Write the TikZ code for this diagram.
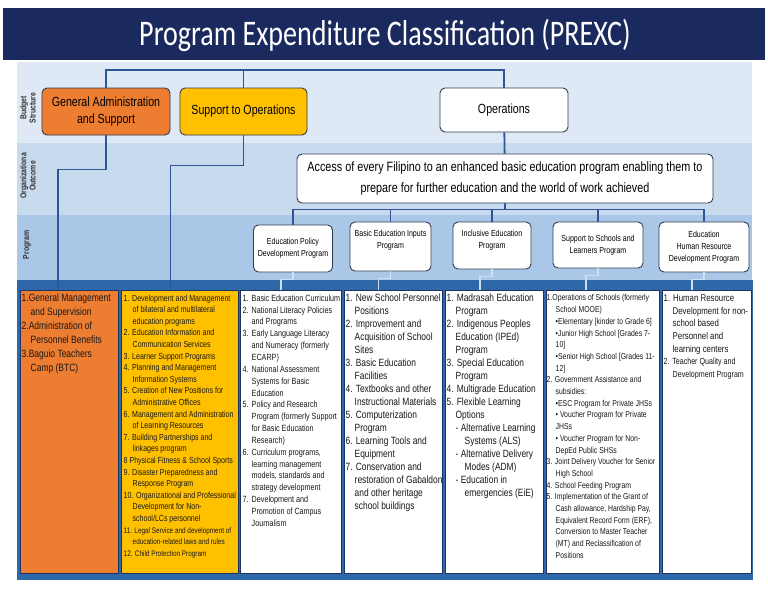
\documentclass[tikz,border=0pt]{standalone}
\usepackage{fontspec}
\setmainfont{Liberation Sans}[FakeStretch=0.8]
\newfontfamily\titlefont{Carlito}[FakeStretch=0.78]
\usetikzlibrary{calc}

\definecolor{titlenavy}{RGB}{27,42,94}
\definecolor{bandone}{RGB}{222,233,245}
\definecolor{bandtwo}{RGB}{200,218,238}
\definecolor{bandthree}{RGB}{170,199,231}
\definecolor{frameblue}{RGB}{46,103,170}
\definecolor{linkblue}{RGB}{47,85,151}
\definecolor{paleblue}{RGB}{205,224,243}
\definecolor{coledge}{RGB}{30,52,96}
\definecolor{boxedge}{RGB}{50,60,80}
\definecolor{gaorange}{RGB}{237,125,49}
\definecolor{supgold}{RGB}{255,192,0}

\newcommand\fs[2]{\fontsize{#1}{#2}\selectfont}
\newcommand\indnt{\hspace*{9pt}}

\begin{document}
\begin{tikzpicture}[x=1pt, y=-1pt,
    box/.style={rectangle, rounded corners=5pt, draw=boxedge, line width=0.9pt, align=center, inner sep=1pt},
    column/.style={rectangle, draw=coledge, line width=1pt, fill=white, minimum height=283, inner sep=0pt},
    list/.style={anchor=north west, align=left, inner sep=0pt, text=black!90},
    link/.style={draw=linkblue, line width=1.8pt},
    sublink/.style={draw=paleblue, line width=1.5pt},
    bandlabel/.style={font=\bfseries\fs{8.6}{9.2}, rotate=90, align=center, text=black!80}
]
    \useasboundingbox[fill=white] (0,0) rectangle (768,594);

    % Title
    \fill[titlenavy] (3,8) rectangle (765,60);
    \node[font=\titlefont\fs{36}{40}, text=white] (title) at (385,35) {Program Expenditure Classification (PREXC)};

    % Bands
    \fill[bandone] (17,62) rectangle (752,143);
    \fill[bandtwo] (17,143) rectangle (752,215);
    \fill[bandthree] (17,215) rectangle (752,280);
    \fill[frameblue] (17,280) rectangle (753,580);
    \node[bandlabel] (lbudget) at (28,108) {Budget\\Structure};
    \node[bandlabel] (loutcome) at (28,176) {Organizationa\\Outcome};
    \node[bandlabel] (lprogram) at (27,245) {Program};

    % Budget structure
    \node[box, fill=gaorange, minimum width=128, minimum height=47, font=\fs{13.3}{17.5}] (ga) at (106,111.5) {General Administration\\and Support};
    \node[box, fill=supgold, minimum width=127, minimum height=47, font=\fs{13.3}{17.5}] (sup) at (243.5,111.5) {Support to Operations};
    \node[box, fill=white, minimum width=128, minimum height=44, font=\fs{13.3}{17.5}] (ops) at (504,110) {Operations};

    % Outcome
    \node[box, fill=white, minimum width=416, minimum height=49, font=\fs{13.5}{21}] (out) at (505,178.5) {Access of every Filipino to an enhanced basic education program enabling them to\\prepare for further education and the world of work achieved};

    % Programs
    \node[box, fill=white, minimum width=79, minimum height=47, font=\fs{8.8}{12}] (p1) at (293,248.5) {Education Policy\\Development Program};
    \node[box, fill=white, minimum width=81, minimum height=49, font=\fs{8.8}{12}, text depth=14] (p2) at (390.5,246.5) {Basic Education Inputs\\Program};
    \node[box, fill=white, minimum width=78, minimum height=47, font=\fs{8.8}{12}, text depth=12] (p3) at (492,245.5) {Inclusive Education\\Program};
    \node[box, fill=white, minimum width=90, minimum height=46, font=\fs{8.8}{12}] (p4) at (598,245) {Support to Schools and\\Learners Program};
    \node[box, fill=white, minimum width=90, minimum height=50, font=\fs{8.8}{12}] (p5) at (704,247) {Education\\Human Resource\\Development Program};

    % Columns
    \node[column, fill=gaorange, minimum width=98] (c1) at (69,431.5) {};
    \node[column, fill=supgold, minimum width=117] (c2) at (179.5,431.5) {};
    \node[column, minimum width=101] (c3) at (290.5,431.5) {};
    \node[column, minimum width=98] (c4) at (393,431.5) {};
    \node[column, minimum width=98] (c5) at (494,431.5) {};
    \node[column, minimum width=113] (c6) at (602.5,431.5) {};
    \node[column, minimum width=89] (c7) at (706.5,431.5) {};

    % Connectors
    \coordinate (bus) at (0,70);
    \draw[link] (ga.north) |- (bus -| ops.north) -- (ops.north);
    \draw[link] (sup.north) -- (sup.north |- bus);
    \draw[link] (ga.south) -- ++(0,34) -| ($(c1.north)+(-11,0)$);
    \draw[link] (sup.south) -- ++(0,30) -| ($(c2.north)+(-9,0)$);
    \draw[link] (ops) -- (out);
    \draw[link] (out.south) -- ++(0,6) coordinate (hub);
    \foreach \p in {p1,p2,p3,p4,p5}
        \draw[link] (hub) -| (\p.north);
    \foreach \p/\c in {p1/c3,p2/c4,p3/c5,p4/c6,p5/c7}
        \draw[sublink] (\p.south) -- ++(0,7) -| ($(\p.south |- \c.north)+(-12,0)$);

    % Column texts
    \node[list, font=\fs{10.6}{14}] (t1) at ($(c1.north west)+(2,4)$) {1.General Management\\\indnt and Supervision\\2.Administration of\\\indnt Personnel Benefits\\3.Baguio Teachers\\\indnt Camp (BTC)};
    \node[list, font=\fs{8.8}{11.6}] (t2) at ($(c2.north west)+(3,5)$) {1. Development and Management\\\indnt of bilateral and multilateral\\\indnt education programs\\2. Education Information and\\\indnt Communication Services\\3. Learner Support Programs\\4. Planning and Management\\\indnt Information Systems\\5. Creation of New Positions for\\\indnt Administrative Offices\\6. Management and Administration\\\indnt of Learning Resources\\7. Building Partnerships and\\\indnt linkages program\\8 Physical Fitness \& School Sports\\9. Disaster Preparedness and\\\indnt Response Program\\10. Organizational and Professional\\\indnt Development for Non-\\\indnt school/LCs personnel\\{\fs{8}{11.6}11. Legal Service and development of}\\\indnt{\fs{8}{11.6}education-related laws and rules}\\{\fs{8}{11.6}12. Child Protection Program}};
    \node[list, font=\fs{9}{11.85}] (t3) at ($(c3.north west)+(3,5)$) {1.\,\,Basic Education Curriculum\\2.\,\,National Literacy Policies\\\indnt and Programs\\3.\,\,Early Language Literacy\\\indnt and Numeracy (formerly\\\indnt ECARP)\\4.\,\,National Assessment\\\indnt Systems for Basic\\\indnt Education\\5.\,\,Policy and Research\\\indnt Program (formerly Support\\\indnt for Basic Education\\\indnt Research)\\6.\,\,Curriculum programs,\\\indnt learning management\\\indnt models, standards and\\\indnt strategy development\\7.\,\,Development and\\\indnt Promotion of Campus\\\indnt Journalism};
    \node[list, font=\fs{10.5}{13}] (t4) at ($(c4.north west)+(2,4)$) {1. New School Personnel\\\indnt Positions\\2. Improvement and\\\indnt Acquisition of School\\\indnt Sites\\3. Basic Education\\\indnt Facilities\\4. Textbooks and other\\\indnt Instructional Materials\\5. Computerization\\\indnt Program\\6. Learning Tools and\\\indnt Equipment\\7. Conservation and\\\indnt restoration of Gabaldon\\\indnt and other heritage\\\indnt school buildings};
    \node[list, font=\fs{10.5}{13}] (t5) at ($(c5.north west)+(2,4)$) {1. Madrasah Education\\\indnt Program\\2. Indigenous Peoples\\\indnt Education (IPEd)\\\indnt Program\\3. Special Education\\\indnt Program\\4. Multigrade Education\\5. Flexible Learning\\\indnt Options\\\indnt - Alternative Learning\\\indnt\indnt Systems (ALS)\\\indnt - Alternative Delivery\\\indnt\indnt Modes (ADM)\\\indnt - Education in\\\indnt\indnt emergencies (EiE)};
    \node[list, font=\fs{8.6}{11.7}] (t6) at ($(c6.north west)+(1,5)$) {1.Operations of Schools (formerly\\\indnt School MOOE)\\\indnt •Elementary [kinder to Grade 6]\\\indnt •Junior High School [Grades 7-\\\indnt 10]\\\indnt •Senior High School [Grades 11-\\\indnt 12]\\2. Government Assistance and\\\indnt subsidies:\\\indnt •ESC Program for Private JHSs\\\indnt • Voucher Program for Private\\\indnt JHSs\\\indnt • Voucher Program for Non-\\\indnt DepEd Public SHSs\\3. Joint Delivery Voucher for Senior\\\indnt High School\\4. School Feeding Program\\5. Implementation of the Grant of\\\indnt Cash allowance, Hardship Pay,\\\indnt Equivalent Record Form (ERF),\\\indnt Conversion to Master Teacher\\\indnt (MT) and Reclassification of\\\indnt Positions};
    \node[list, font=\fs{9.8}{12.7}] (t7) at ($(c7.north west)+(2,5)$) {1. Human Resource\\\indnt Development for non-\\\indnt school based\\\indnt Personnel and\\\indnt learning centers\\{\fs{8.9}{12.7}2. Teacher Quality and}\\\indnt{\fs{8.9}{12.7}Development Program}};
\end{tikzpicture}
\end{document}
